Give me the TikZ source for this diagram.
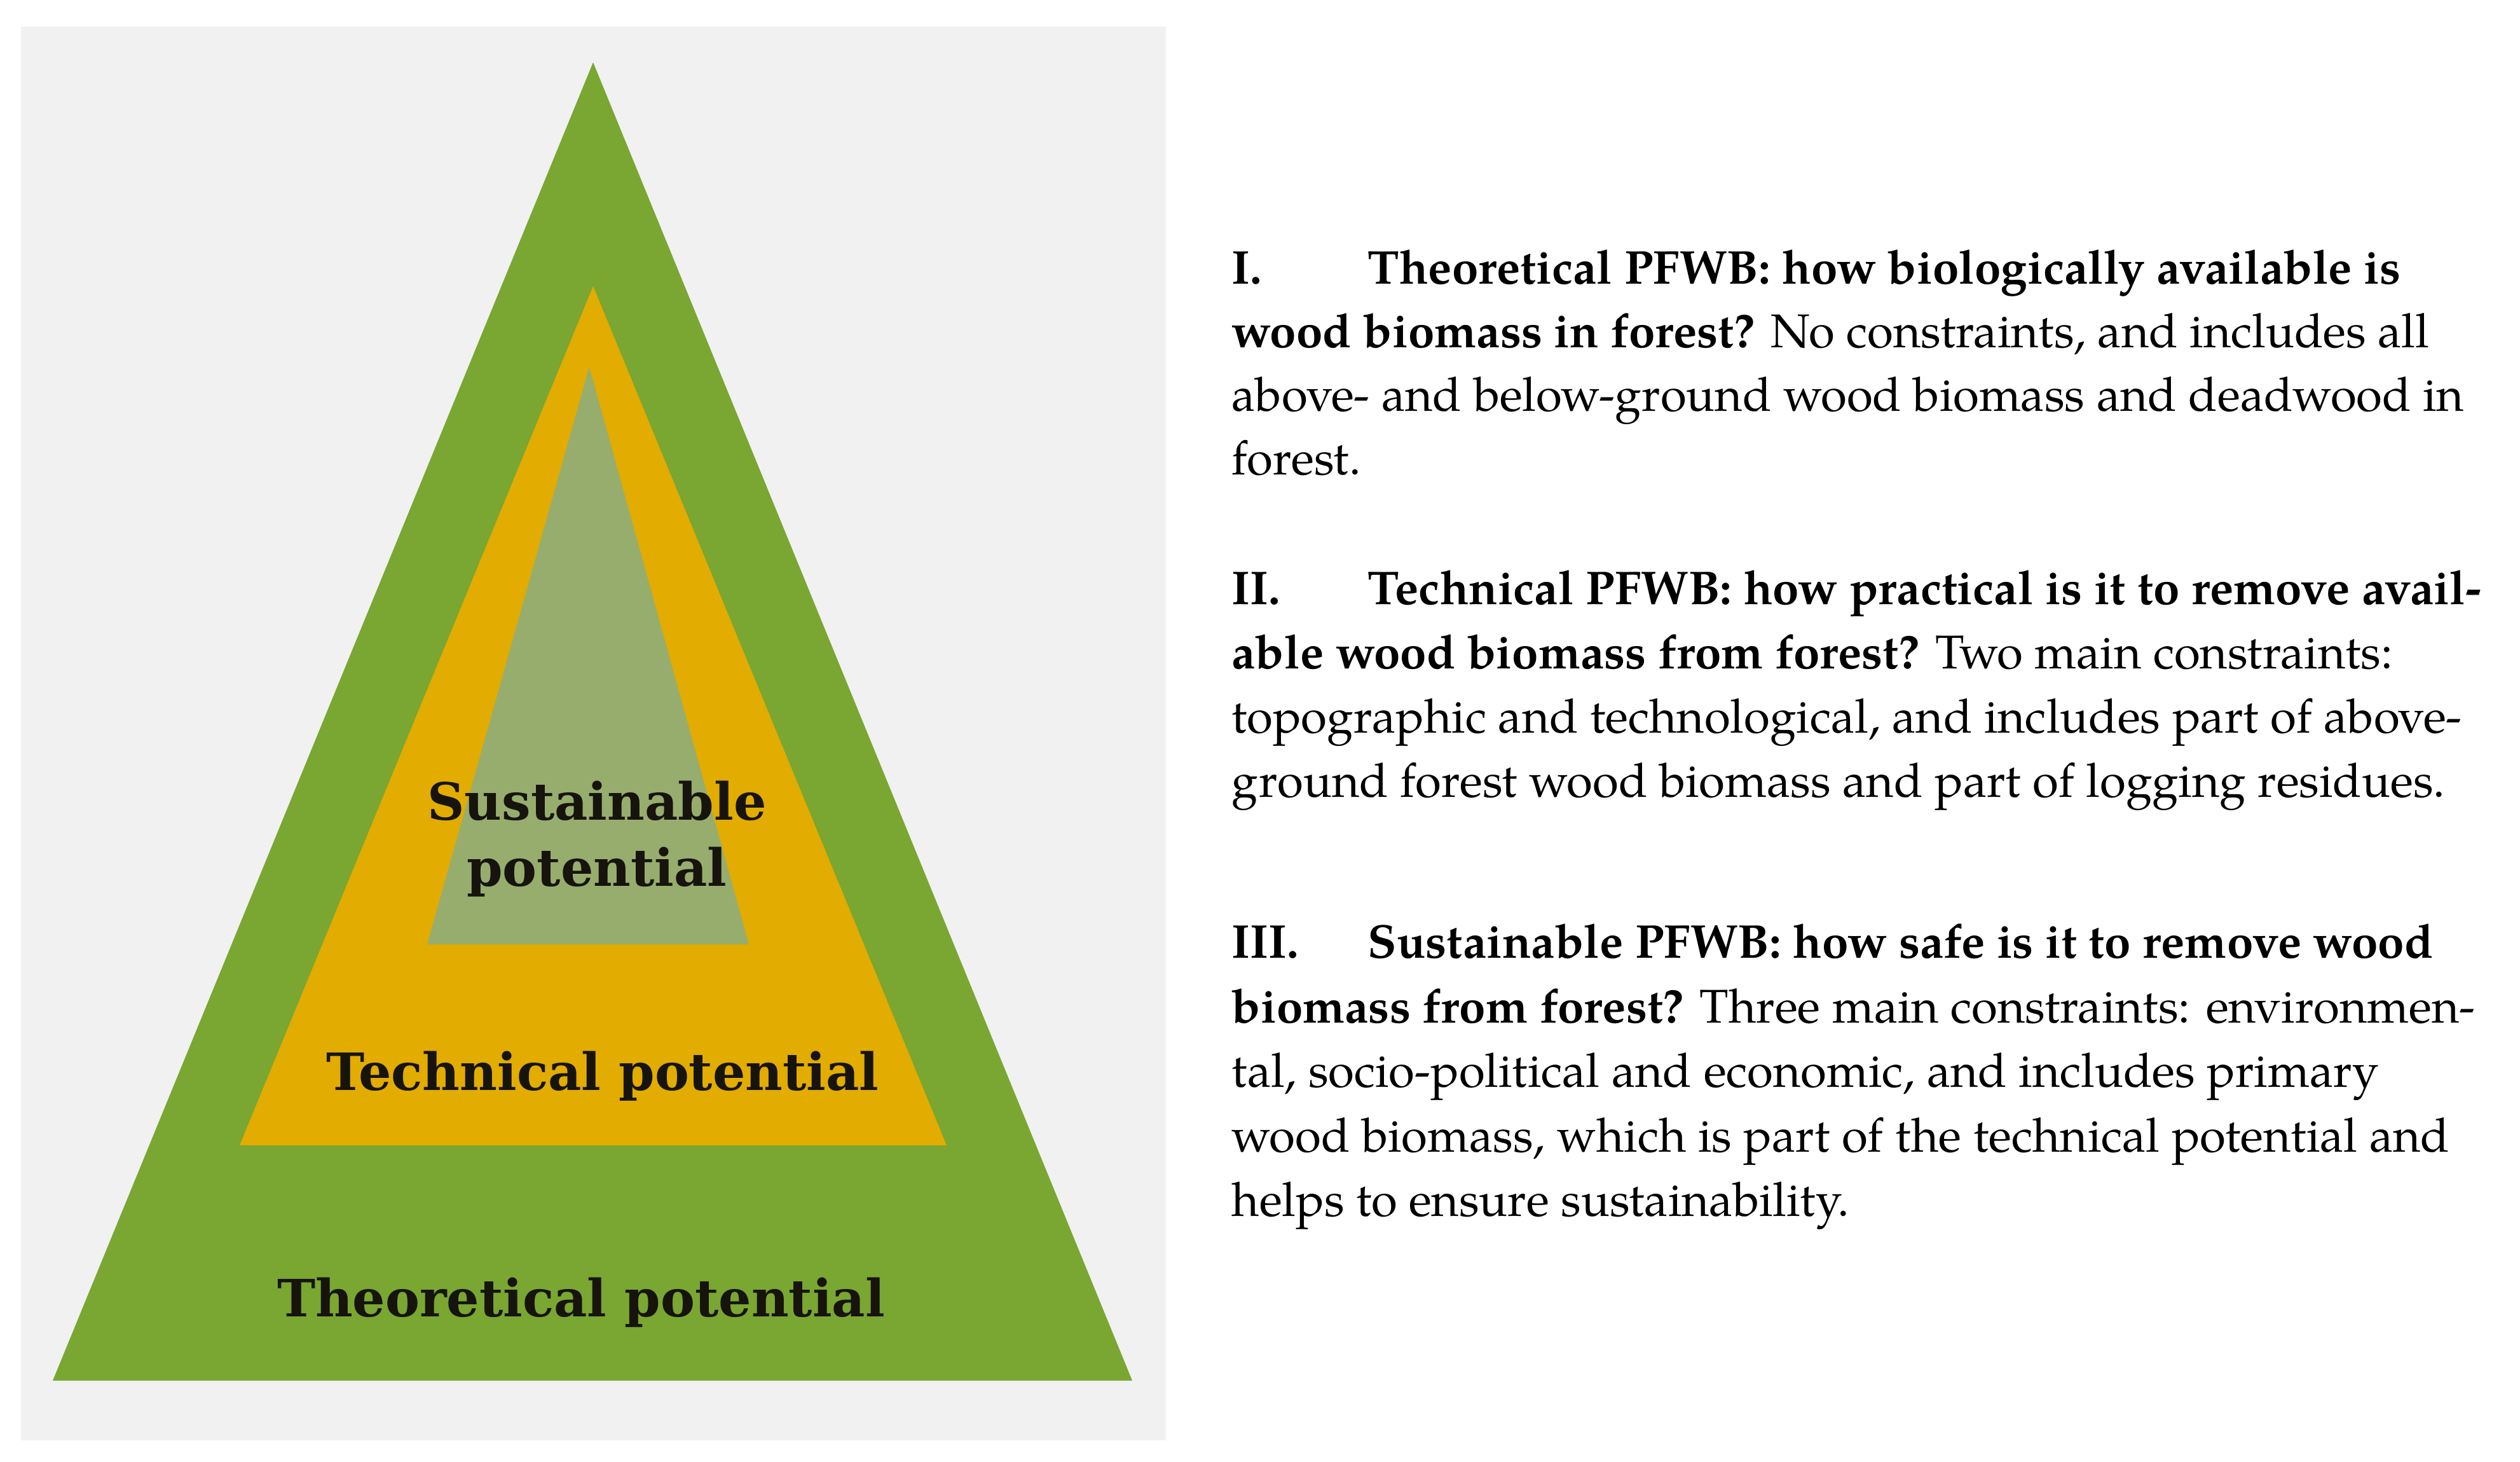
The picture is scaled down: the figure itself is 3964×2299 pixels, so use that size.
\documentclass[tikz,border=0pt]{standalone}
\usepackage{fontspec}
\setmainfont{TeX Gyre Pagella}
\newfontfamily\labelfont{DejaVu Serif}
\usepackage{tikz}

\definecolor{panelgray}{RGB}{241,241,241}
\definecolor{theogreen}{RGB}{122,166,50}
\definecolor{techorange}{RGB}{226,172,0}
\definecolor{sustgreen}{RGB}{151,173,110}
\definecolor{labelink}{RGB}{22,20,12}

\tikzset{
  potlabel/.style={anchor=base, inner sep=0pt, text=labelink,
    font=\labelfont\bfseries\fontsize{23pt}{28pt}\selectfont},
  txtline/.style={anchor=base west, inner sep=0pt,
    font=\fontsize{21.2pt}{28pt}\selectfont},
}

\begin{document}
\begin{tikzpicture}[x=0.1mm,y=-0.1mm]
  \useasboundingbox (0,0) rectangle (3964,2299);
  \fill[panelgray] (33,42) rectangle (1834,2265);

  %triangles
  \coordinate (theotop) at (933,98);
  \coordinate (theoleft) at (83,2171);
  \coordinate (theoright) at (1781,2171);
  \coordinate (techtop) at (933,450);
  \coordinate (techleft) at (377,1801);
  \coordinate (techright) at (1489,1801);
  \coordinate (susttop) at (927,577);
  \coordinate (sustleft) at (672,1485);
  \coordinate (sustright) at (1178,1485);
  \fill[theogreen] (theoleft) -- (theoright) -- (theotop) -- cycle;
  \fill[techorange] (techleft) -- (techright) -- (techtop) -- cycle;
  \fill[sustgreen] (sustleft) -- (sustright) -- (susttop) -- cycle;

  \node[potlabel] (sust1) at (939,1289) {Sustainable};
  \node[potlabel] (sust2) at (939,1393) {potential};
  \node[potlabel] (tech) at (948,1714) {Technical potential};
  \node[potlabel] (theo) at (914,2070) {Theoretical potential};

  %text
  \node[txtline] (num1) at (1937,447) {\textbf{I.}};
  \node[txtline] (p1l1) at (2151,447) {\textbf{Theoretical PFWB: how biologically available is}};
  \node[txtline] (p1l2) at (1937,547) {\textbf{wood biomass in forest?} No constraints, and includes all};
  \node[txtline] (p1l3) at (1937,647) {above- and below-ground wood biomass and deadwood in};
  \node[txtline] (p1l4) at (1937,747) {forest.};

  \node[txtline] (num2) at (1937,950) {\textbf{II.}};
  \node[txtline] (p2l1) at (2151,950) {\textbf{Technical PFWB: how practical is it to remove avail-}};
  \node[txtline] (p2l2) at (1937,1051) {\textbf{able wood biomass from forest?} Two main constraints:};
  \node[txtline] (p2l3) at (1937,1152) {topographic and technological, and includes part of above-};
  \node[txtline] (p2l4) at (1937,1253) {ground forest wood biomass and part of logging residues.};

  \node[txtline] (num3) at (1937,1506) {\textbf{III.}};
  \node[txtline] (p3l1) at (2151,1506) {\textbf{Sustainable PFWB: how safe is it to remove wood}};
  \node[txtline] (p3l2) at (1937,1608) {\textbf{biomass from forest?} Three main constraints: environmen-};
  \node[txtline] (p3l3) at (1937,1709) {tal, socio-political and economic, and includes primary};
  \node[txtline] (p3l4) at (1937,1811) {wood biomass, which is part of the technical potential and};
  \node[txtline] (p3l5) at (1937,1912) {helps to ensure sustainability.};
\end{tikzpicture}
\end{document}
